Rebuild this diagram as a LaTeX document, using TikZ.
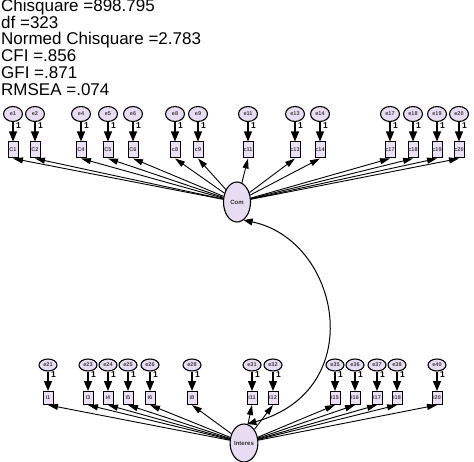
\documentclass[tikz,border=0pt]{standalone}
\usepackage{fontspec}
\setmainfont{Liberation Sans}
\usetikzlibrary{arrows.meta,shapes.geometric}
\definecolor{lav}{RGB}{232,220,242}
\definecolor{lavbox}{RGB}{236,224,245}
\begin{document}
\begin{tikzpicture}[x=1pt,y=-1pt,
  errnode/.style={ellipse,draw,line width=1.1pt,fill=lav,inner sep=0pt,
    font=\fontsize{5.5}{5.5}\selectfont\bfseries,text=black!75},
  topbox/.style={rectangle,draw,line width=1pt,fill=lavbox,inner sep=0pt,
    minimum width=10pt,minimum height=16pt,font=\fontsize{5.5}{5.5}\selectfont\bfseries,text=black!75},
  botbox/.style={topbox,minimum height=13pt},
  latent/.style={ellipse,draw,line width=1.1pt,fill=lav,inner sep=0pt,
    font=\fontsize{6}{6}\selectfont\bfseries,text=black!80},
  errarrow/.style={-{Triangle[length=10pt,width=8pt]},line width=1.1pt},
  loadarrow/.style={-{Triangle[length=10pt,width=6pt]},line width=0.9pt},
  one/.style={font=\fontsize{8.5}{8.5}\selectfont\bfseries,inner sep=0pt},
  fitline/.style={anchor=base west,inner sep=0pt,font=\fontsize{17}{17}\selectfont}
]
\useasboundingbox (0,0) rectangle (474,462);

% fit indices
\node[fitline] (f1) at (1,12) {Chisquare =898.795};
\node[fitline] (f2) at (1,28.5) {df =323};
\node[fitline] (f3) at (1,45) {Normed Chisquare =2.783};
\node[fitline] (f4) at (1,62) {CFI =.856};
\node[fitline] (f5) at (1,79) {GFI =.871};
\node[fitline] (f6) at (1,95.5) {RMSEA =.074};

% latent variables
\node[latent,minimum width=27pt,minimum height=40pt] (com) at (237,202) {Com};
\node[latent,minimum width=24pt,minimum height=38pt] (int) at (244,443) {Interes};

% top row
\foreach \e/\b/\x in {e1/C1/13,e2/C2/35,e4/C4/81,e5/C5/108,e6/C6/133,e8/c8/175,e9/c9/198,
  e11/c11/248,e13/c13/295,e14/c14/320,e17/c17/390,e18/c18/413,e19/c19/437,e20/c20/459}{
  \node[errnode,minimum width=19pt,minimum height=15pt] (\e) at (\x,114) {\e};
  \node[topbox] (\b) at (\x,150) {\b};
  \draw[errarrow] (\e) -- (\b);
  \node[one] (l\e) at (\x+5.5,126) {1};
  \draw[loadarrow] (com) -- (\b.south);
}

% bottom row
\foreach \e/\b/\x in {e21/i1/48,e23/i3/88,e24/i4/108,e25/i5/128,e26/i6/150,e28/i8/192,
  e31/i11/252,e32/i12/273,e35/i15/335,e36/i16/355,e37/i17/377,e38/i18/397,e40/i20/437}{
  \node[errnode,minimum width=18pt,minimum height=12pt] (\e) at (\x,365) {\e};
  \node[botbox] (\b) at (\x,398) {\b};
  \draw[errarrow] (\e) -- (\b);
  \node[one] (l\e) at (\x+5.5,375) {1};
  \draw[loadarrow] (int) -- (\b.south);
}

% covariance
\draw[{Triangle[length=9pt,width=7pt]}-{Triangle[length=9pt,width=7pt]},line width=1pt]
  (com.-70) .. controls (340,240) and (370,390) .. (int.80);
\end{tikzpicture}
\end{document}
